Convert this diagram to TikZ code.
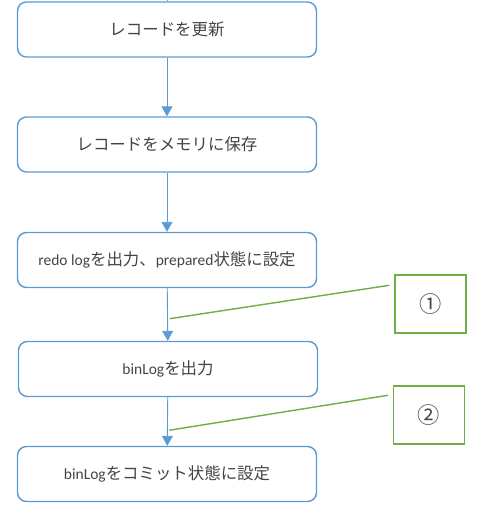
\documentclass[tikz,border=0pt]{standalone}
\usepackage{fontspec}
\setmainfont{Carlito}
\newfontfamily\jp[Scale=1.06]{Noto Sans CJK JP}
\usetikzlibrary{arrows.meta,calc}

\definecolor{stepblue}{HTML}{5B9BD5}
\definecolor{notegreen}{HTML}{70AD47}
\definecolor{textgray}{HTML}{444444}

\tikzset{
  stepbox/.style={draw=stepblue,line width=1.4pt,rounded corners=9pt,
    minimum width=299pt,minimum height=55pt,inner sep=0pt,
    text=textgray,font=\fontsize{15.5}{18}\selectfont},
  notebox/.style={draw=notegreen,line width=1.4pt,
    minimum width=71pt,minimum height=58pt,inner sep=0pt,
    text=textgray,font=\fontsize{21}{24}\selectfont\jp},
  flow/.style={stepblue,line width=0.9pt,-{Triangle[width=11pt,length=10pt]}},
  pointer/.style={notegreen,line width=1.4pt}
}

\begin{document}
\begin{tikzpicture}[x=1pt,y=-1pt]
    \useasboundingbox (0,0) rectangle (482,519);

    % update record
    \node[stepbox] (update) at (167,29.5) {{\jp レコードを更新}};
    \coordinate (entry) at (167,-20);
    \draw[stepblue,line width=0.9pt] (entry) -- (update.north);

    % keep record in memory
    \node[stepbox] (memory) at (167,144.5) {{\jp レコードをメモリに保存}};
    \draw[flow] (update) -- (memory);

    % write redo log, prepared
    \node[stepbox] (redo) at (167,260) {redo log{\jp を出力、}prepared{\jp 状態に設定}};
    \draw[flow] (memory) -- (redo);

    % write binlog
    \node[stepbox] (binlog) at (168,369) {binLog{\jp を出力}};
    \draw[flow] (redo) -- (binlog);

    % commit binlog
    \node[stepbox] (commit) at (167,474) {binLog{\jp をコミット状態に設定}};
    \draw[flow] (binlog) -- (commit);

    %%%%%%%%%%%%%%%%%%%%%%%%%%%%%%%%%%%%%%%%%%%%%%%%%%%%%%

    % point 1
    \node[notebox] (one) at (430.5,304) {①};
    \coordinate (oneend) at ($(redo.south)!0.58!(binlog.north)+(2,0)$);
    \coordinate (onestart) at ($(one.north west)+(-5,11)$);
    \draw[pointer] (onestart) -- (oneend);

    % point 2
    \node[notebox] (two) at (429,415) {②};
    \coordinate (twoend) at ($(binlog.south)!0.68!(commit.north)+(2,0)$);
    \coordinate (twostart) at ($(two.north west)+(-5,10)$);
    \draw[pointer] (twostart) -- (twoend);

\end{tikzpicture}
\end{document}
